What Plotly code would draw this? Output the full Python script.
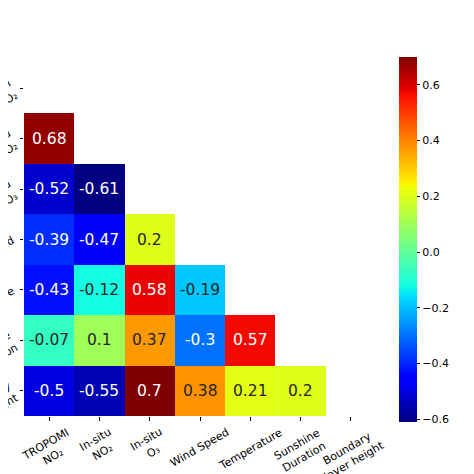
import numpy as np
import plotly.graph_objects as go

# Lower-triangle correlation heatmap (upper triangle + diagonal masked)

labels = ["TROPOMI<br>NO₂", "In-situ<br>NO₂", "In-situ<br>O₃", "Wind Speed",
          "Temperature", "Sunshine<br>Duration", "Boundary<br>layer height"]

# values below the diagonal, row by row
row_values = [
    [],
    [0.68],
    [-0.52, -0.61],
    [-0.39, -0.47, 0.2],
    [-0.43, -0.12, 0.58, -0.19],
    [-0.07, 0.1, 0.37, -0.3, 0.57],
    [-0.5, -0.55, 0.7, 0.38, 0.21, 0.2],
]

colorbar_ticks = [-0.6, -0.4, -0.2, 0.0, 0.2, 0.4, 0.6]

n = len(labels)
z = [vals + [None] * (n - len(vals)) for vals in row_values]
zmin = min(v for vals in row_values for v in vals)
zmax = max(v for vals in row_values for v in vals)

# matplotlib "jet" segment data
red_pts = [(0, 0), (0.35, 0), (0.66, 1), (0.89, 1), (1, 0.5)]
green_pts = [(0, 0), (0.125, 0), (0.375, 1), (0.64, 1), (0.91, 0), (1, 0)]
blue_pts = [(0, 0.5), (0.11, 1), (0.34, 1), (0.65, 0), (1, 0)]


def chan(pts, t):
    return float(np.interp(t, [p[0] for p in pts], [p[1] for p in pts]))


def jet(t):
    return chan(red_pts, t), chan(green_pts, t), chan(blue_pts, t)


stops = sorted(set(p[0] for p in red_pts + green_pts + blue_pts))
jet_scale = []
for s in stops:
    r, g, b = jet(s)
    jet_scale.append([s, "rgb(%d,%d,%d)" % (round(r * 255), round(g * 255), round(b * 255))])


def text_color(v):
    t = (v - zmin) / (zmax - zmin)
    lin = []
    for c in jet(t):
        lin.append(c / 12.92 if c <= 0.03928 else ((c + 0.055) / 1.055) ** 2.4)
    lum = 0.2126 * lin[0] + 0.7152 * lin[1] + 0.0722 * lin[2]
    return "#262626" if lum > 0.408 else "white"


fig = go.Figure(go.Heatmap(
    z=z, x=labels, y=labels,
    zmin=zmin, zmax=zmax,
    colorscale=jet_scale,
    hoverongaps=False,
    colorbar=dict(
        x=1.065, xanchor="left", xpad=0,
        y=0.5, yanchor="middle", ypad=0,
        lenmode="pixels", len=365, thickness=18,
        outlinewidth=0,
        tickvals=colorbar_ticks, tickformat=".1f",
        ticks="outside", ticklen=3.5, tickwidth=0.8, tickcolor="black",
        tickfont=dict(family="DejaVu Sans", size=11, color="black"),
    ),
))

annotations = []
for i, vals in enumerate(row_values):
    for j, v in enumerate(vals):
        annotations.append(dict(
            x=labels[j], y=labels[i], xref="x", yref="y",
            text="{:.2g}".format(v), showarrow=False,
            font=dict(family="DejaVu Sans", size=15.5, color=text_color(v)),
        ))

# rotated x tick labels, centred under each tick like matplotlib
for lab in labels:
    annotations.append(dict(
        x=lab, xref="x", y=0, yref="paper", yanchor="top", xanchor="center",
        yshift=-7, text=lab, textangle=-30, showarrow=False,
        font=dict(family="DejaVu Sans", size=11, color="black"),
    ))

# page body adds an 8px offset, so margins are shifted back by 8px
fig.update_layout(
    width=474, height=474,
    margin=dict(l=16, r=106, t=55, b=66, autoexpand=False),
    paper_bgcolor="white", plot_bgcolor="white",
    annotations=annotations,
    showlegend=False,
)
fig.update_xaxes(range=[-0.5, n - 0.5], showticklabels=False, ticks="outside",
                 ticklen=3.5, tickwidth=0.8, tickcolor="black", showgrid=False,
                 zeroline=False, showline=False, automargin=False)
fig.update_yaxes(range=[n - 0.5, -0.5], showticklabels=True, tickangle=-30,
                 ticklabelstandoff=5,
                 tickfont=dict(family="DejaVu Sans", size=11, color="black"),
                 ticks="outside", ticklen=3.5, tickwidth=0.8, tickcolor="black",
                 showgrid=False, zeroline=False, showline=False, automargin=False)

fig.write_html("out.html")
